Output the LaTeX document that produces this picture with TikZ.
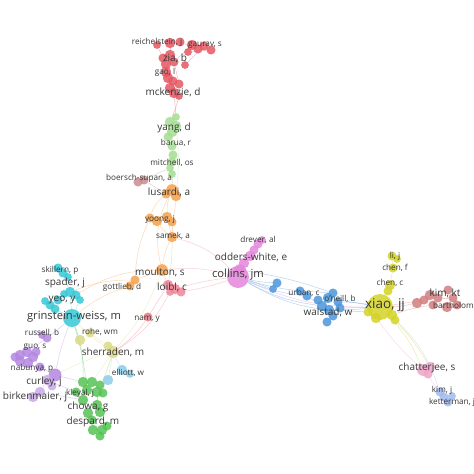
\documentclass[tikz,border=0pt]{standalone}
\usepackage{fontspec}
\setmainfont{Open Sans}
\usetikzlibrary{backgrounds}
\pgfdeclarelayer{bgzero}
\pgfdeclarelayer{edges}
\pgfsetlayers{bgzero,edges,main}
\definecolor{cRed}{RGB}{228,88,98}
\definecolor{cLGreen}{RGB}{165,222,145}
\definecolor{cBrown}{RGB}{200,140,145}
\definecolor{cOrange}{RGB}{245,160,75}
\definecolor{cPink}{RGB}{238,135,150}
\definecolor{cNam}{RGB}{238,120,130}
\definecolor{cMag}{RGB}{228,135,220}
\definecolor{cBlue}{RGB}{75,150,220}
\definecolor{cYellow}{RGB}{212,212,40}
\definecolor{cSalmon}{RGB}{210,125,125}
\definecolor{cPinkB}{RGB}{238,165,200}
\definecolor{cLBlue}{RGB}{160,185,235}
\definecolor{cCyan}{RGB}{55,200,215}
\definecolor{cPurple}{RGB}{180,135,225}
\definecolor{cLPurple}{RGB}{200,170,230}
\definecolor{cOlive}{RGB}{218,218,135}
\definecolor{cSky}{RGB}{140,205,232}
\definecolor{cGreen}{RGB}{85,195,85}
\definecolor{cText}{RGB}{55,55,55}
\begin{document}
\begin{tikzpicture}[x=1pt,y=-1pt,
  vd/.style={circle,inner sep=0pt,minimum size=#1,fill opacity=0.85,draw=none},
  ed/.style={draw=#1,line width=0.5pt,opacity=0.4},
  labS/.style={text=cText,inner sep=0pt,font=\fontsize{8.2}{9}\selectfont},
  labM/.style={text=cText,inner sep=0pt,font=\fontsize{10}{11}\selectfont},
  labL/.style={text=cText,inner sep=0pt,font=\fontsize{11.2}{12}\selectfont},
  labX/.style={text=cText,inner sep=0pt,font=\fontsize{13.5}{14}\selectfont}]
\useasboundingbox (0,0) rectangle (474,474);
\begin{pgfonlayer}{bgzero}
\fill[white] (0,0) rectangle (474,474);
\end{pgfonlayer}
% ---- circles
\foreach \n/\x/\y/\s/\c in {
 r1/170/43/8/cRed, r2/180/42/7/cRed, r3/192/45/8/cRed, r4/198/49/7/cRed, r5/204/46/7/cRed,
 r6/211/50/7/cRed, r7/170/55/8/cRed, r8/163/58/7/cRed, r9/166/64/8/cRed, r10/174/62/7/cRed,
 r11/166/72/8/cRed, r12/168/78/8/cRed, r13/173/81/7/cRed, r14/179/84/7/cRed, r15/170/88/8/cRed,
 r16/174/93/8/cRed, r17/179/96/6/cRed, r18/185/65/6/cRed, r19/157/45/6/cRed, r20/188/52/6/cRed,
 g1/170/122/8/cLGreen, g2/176/126/8/cLGreen, g3/172/132/8/cLGreen, g4/168/137/7/cLGreen,
 g5/172/146/7/cLGreen, g6/173/155/7/cLGreen, g7/172/162/7/cLGreen, g8/170/168/6/cLGreen,
 g9/172/174/6/cLGreen, g10/176/117/6/cLGreen,
 b1/138/182/7/cBrown, b2/144/180/7/cBrown,
 o1/172/190/9/cOrange, o2/176/196/8/cOrange, o3/166/194/7/cOrange, o4/150/218/7/cOrange,
 o5/157/221/8/cOrange, o6/167/217/8/cOrange, o7/172/222/7/cOrange, o8/172/237/8/cOrange,
 o9/162/270/9/cOrange, o10/135/280/7/cOrange, o11/130/286/7/cOrange,
 p1/168/285/8/cPink, p2/175/289/8/cPink, p3/181/292/7/cPink, p4/170/292/6/cPink,
 n1/148/317/7/cNam,
 m1/258/244/7/cMag, m2/254/250/7/cMag, m3/250/256/8/cMag, m4/244/263/8/cMag, m5/240/270/9/cMag,
 m0/238/277/22/cMag, m6/262/240/6/cMag,
 u1/277/283/7/cBlue, u2/273/289/6/cBlue, u3/300/291/7/cBlue, u4/307/296/7/cBlue, u5/333/293/7/cBlue,
 u6/328/298/8/cBlue, u7/338/302/7/cBlue, u8/322/306/8/cBlue, u9/329/310/8/cBlue, u10/340/308/7/cBlue,
 u11/333/316/7/cBlue, u12/327/322/7/cBlue, u13/318/300/7/cBlue,
 y0/380/307/26/cYellow, y1/392/256/7/cYellow, y2/397/259/6/cYellow, y3/393/268/7/cYellow,
 y4/390/285/8/cYellow, y5/388/291/7/cYellow, y6/376/318/8/cYellow, y7/392/315/8/cYellow,
 y8/395/320/7/cYellow, y9/368/312/7/cYellow,
 k1/417/303/8/cSalmon, k2/430/295/8/cSalmon, k3/438/298/7/cSalmon, k4/448/290/7/cSalmon,
 k5/453/298/7/cSalmon, k6/457/305/7/cSalmon, k7/447/307/8/cSalmon, k8/433/305/7/cSalmon,
 k9/424/300/7/cSalmon,
 c1/423/370/9/cPinkB, c2/430/367/8/cPinkB, c3/428/374/7/cPinkB,
 j1/440/392/7/cLBlue, j2/444/397/7/cLBlue, j3/448/402/7/cLBlue, j4/452/396/6/cLBlue,
 a1/58/268/7/cCyan, a2/63/273/7/cCyan, a3/68/277/6/cCyan, a4/70/292/8/cCyan, a5/76/295/7/cCyan,
 a6/64/294/6/cCyan, a7/58/300/7/cCyan, a8/50/305/7/cCyan, a9/55/309/7/cCyan, a0/72/318/18/cCyan,
 a10/80/300/6/cCyan, a11/45/301/6/cCyan,
 q1/47/338/7/cPurple, q2/42/335/6/cPurple, q3/20/355/8/cPurple, q4/27/352/8/cPurple,
 q5/33/357/8/cPurple, q6/20/361/8/cPurple, q7/28/363/8/cPurple, q8/15/357/7/cPurple,
 q9/40/367/7/cPurple, q10/55/375/10/cPurple, q11/47/380/8/cLPurple, q12/40/392/8/cLPurple,
 q13/33/397/8/cLPurple, q14/52/386/7/cLPurple, q15/36/352/7/cPurple,
 v1/80/340/8/cOlive, v2/90/333/7/cOlive, v0/113/352/12/cOlive, v3/108/346/7/cOlive,
 e1/108/380/8/cSky, e2/122/370/8/cSky, e3/130/374/6/cSky,
 h1/83/382/8/cGreen, h2/92/382/8/cGreen, h3/100/385/7/cGreen, h4/87/390/8/cGreen,
 h5/97/392/8/cGreen, h6/103/393/7/cGreen, h7/83/400/8/cGreen, h8/97/405/8/cGreen,
 h9/100/412/8/cGreen, h10/88/413/8/cGreen, h11/93/430/8/cGreen, h12/102/430/8/cGreen,
 h13/107/426/7/cGreen, h14/100/436/7/cGreen, h15/76/392/7/cGreen, h16/92/420/7/cGreen}
 {\pgfmathsetmacro\ss{\s<12 ? \s*1.3 : \s}
  \node[vd=\ss pt,fill=\c] (\n) at (\x,\y) {};}
% ---- edges
\begin{pgfonlayer}{edges}
\foreach \a/\b/\c/\bd in {
 r1/r7/cRed/0, r3/r10/cRed/0, r7/r11/cRed/0, r11/r16/cRed/0, r10/r14/cRed/0, r5/r18/cRed/0,
 r13/r16/cRed/0, r2/r4/cRed/0, r6/r20/cRed/0, r19/r8/cRed/0,
 r16/g10/cRed/0, r17/g1/cRed/4,
 g10/g1/cLGreen/0, g1/g3/cLGreen/0, g3/g5/cLGreen/0, g5/g7/cLGreen/0, g7/g9/cLGreen/0,
 g9/o1/cLGreen/0, g2/o2/cLGreen/6, b2/o3/cBrown/0, b1/g8/cBrown/0,
 o1/o6/cOrange/-10, o3/o4/cOrange/-15, o2/o7/cOrange/5, o6/o8/cOrange/0, o7/o8/cOrange/0,
 o5/o8/cOrange/-10, o1/o9/cOrange/-20, o8/o9/cOrange/-10, o8/p1/cOrange/5, o9/p1/cOrange/0,
 o9/o10/cOrange/0, o10/o11/cOrange/0, o4/o10/cOrange/-10,
 o8/m0/cPink/15, p2/m0/cPink/5, p3/m0/cPink/-4, o9/m0/cPink/10,
 o11/a0/cOrange/-10, o10/a4/cOrange/-10, o9/a5/cOrange/-15,
 p1/n1/cNam/0, n1/v0/cNam/10, p4/v0/cPink/15,
 m0/u2/cBlue/0, m0/u1/cBlue/-5, m0/u3/cBlue/-5, m0/u4/cBlue/-8, m0/y0/cMag/-12,
 m0/y0/cBlue/-18, m5/u5/cBlue/5, m0/u8/cBlue/-10,
 u3/u5/cBlue/0, u4/u8/cBlue/0, u6/y0/cBlue/0, u7/y0/cBlue/5, u10/y0/cBlue/0, u9/y9/cBlue/0,
 y0/y4/cYellow/0, y4/y3/cYellow/0, y3/y1/cYellow/0, y1/y2/cYellow/0,
 y0/k9/cSalmon/0, y0/k1/cSalmon/-5, y7/k8/cSalmon/5,
 y0/c1/cYellow/10, y8/c2/cYellow/5, y6/c1/cPinkB/-5, c1/j1/cPinkB/0, y0/j1/cLBlue/15,
 k9/k2/cSalmon/0, k2/k4/cSalmon/0, k3/k5/cSalmon/0, k5/k6/cSalmon/0, k7/k8/cSalmon/0,
 a0/a4/cCyan/0, a4/a2/cCyan/0, a2/a1/cCyan/0, a4/a7/cCyan/0, a7/a8/cCyan/0, a0/a9/cCyan/0,
 a0/a10/cCyan/0,
 a0/v1/cOlive/0, a0/v0/cOlive/-5, a0/q1/cPurple/0, a0/q10/cPurple/-5, a0/h1/cGreen/10,
 a0/h4/cGreen/5,
 v0/v3/cOlive/0, v3/v2/cOlive/0, v0/h2/cOlive/0, v0/h3/cOlive/5, v0/e2/cSky/0, v0/e1/cSky/0,
 v0/q10/cOlive/-5, v0/o9/cOlive/-10, v0/h9/cOlive/-8,
 q1/q4/cPurple/0, q4/q3/cPurple/0, q5/q9/cPurple/0, q9/q10/cPurple/0, q10/q11/cPurple/0,
 q11/q12/cPurple/0, q12/q13/cPurple/0, q3/q6/cPurple/0,
 q10/h1/cPurple/0, q11/h15/cPurple/0, q12/h7/cPurple/0,
 h1/h4/cGreen/0, h4/h7/cGreen/0, h7/h10/cGreen/0, h10/h16/cGreen/0, h16/h11/cGreen/0,
 h11/h14/cGreen/0, h5/h8/cGreen/0, h8/h9/cGreen/0, h9/h12/cGreen/0, e1/h3/cSky/0}
 \draw[ed=\c] (\a) to[bend left=\bd] (\b);
\end{pgfonlayer}
% ---- labels
\node[labS] (t1) at (157,42) {reichelstein, j};
\node[labS] (t2) at (205,45) {gaurav, s};
\node[labM] (t3) at (175,58) {zia, b};
\node[labS] (t4) at (165,72) {gao, l};
\node[labM] (t5) at (173,92) {mckenzie, d};
\node[labM] (t6) at (174,128) {yang, d};
\node[labS] (t7) at (176,143) {barua, r};
\node[labS] (t8) at (172,163) {mitchell, os};
\node[labS] (t9) at (139,178) {boersch-supan, a};
\node[labM] (t10) at (169,192) {lusardi, a};
\node[labS] (t11) at (160,219) {yoong, j};
\node[labS] (t12) at (173,236) {samek, a};
\node[labM] (t13) at (160,272) {moulton, s};
\node[labS] (t14) at (122,287) {gottlieb, d};
\node[labM] (t15) at (172,287) {loibl, c};
\node[labS] (t16) at (147,319) {nam, y};
\node[labS] (t17) at (258,240) {drever, al};
\node[labM] (t18) at (251,257) {odders-white, e};
\node[labL] (t19) at (238,275) {collins, jm};
\node[labS] (t20) at (304,293) {urban, c};
\node[labS] (t21) at (340,299) {o'neill, b};
\node[labM] (t22) at (328,312) {walstad, w};
\node[labS] (t23) at (395,256) {li, j};
\node[labS] (t24) at (395,268) {chen, f};
\node[labS] (t25) at (390,283) {chen, c};
\node[labX] (t26) at (385,305) {xiao, jj};
\node[labM] (t27) at (445,293) {kim, kt};
\node[labS,anchor=west] (t28) at (433,306) {bartholomae, s};
\node[labM] (t29) at (427,368) {chatterjee, s};
\node[labS] (t30) at (442,390) {kim, j};
\node[labS] (t31) at (452,402) {ketterman, j};
\node[labS] (t32) at (60,270) {skillern, p};
\node[labM] (t33) at (65,283) {spader, j};
\node[labM] (t34) at (62,300) {yeo, y};
\node[labL] (t35) at (74,317) {grinstein-weiss, m};
\node[labS] (t36) at (42,333) {russell, b};
\node[labS] (t37) at (35,347) {guo, s};
\node[labS] (t38) at (100,332) {rohe, wm};
\node[labM] (t39) at (113,352) {sherraden, m};
\node[labS] (t40) at (32,368) {nabunya, p};
\node[labM] (t41) at (44,382) {curley, j};
\node[labS] (t42) at (128,373) {elliott, w};
\node[labM] (t43) at (35,397) {birkenmaier, j};
\node[labS] (t44) at (80,393) {kleyal, j};
\node[labM] (t45) at (88,407) {chowa, g};
\node[labM] (t46) at (93,422) {despard, m};
\end{tikzpicture}
\end{document}
